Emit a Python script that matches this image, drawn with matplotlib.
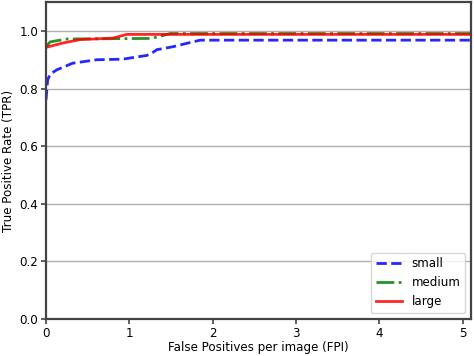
import matplotlib
matplotlib.use('Agg')
import matplotlib.pyplot as plt

# FROC curves
fpi_small = [0.0, 0.02, 0.05, 0.13, 0.32, 0.61, 0.92, 1.21, 1.28, 1.33, 1.52, 1.76, 1.85, 5.1]
tpr_small = [0.76, 0.83, 0.85, 0.865, 0.888, 0.90, 0.902, 0.915, 0.925, 0.935, 0.945, 0.962, 0.968, 0.968]

fpi_medium = [0.0, 0.05, 0.25, 1.25, 1.35, 1.49, 5.1]
tpr_medium = [0.945, 0.962, 0.972, 0.974, 0.98, 0.991, 0.991]

fpi_large = [0.0, 0.2, 0.41, 0.8, 0.97, 5.1]
tpr_large = [0.943, 0.958, 0.97, 0.975, 0.988, 0.988]

fig = plt.figure(figsize=(4.74, 3.56), dpi=100)
ax = fig.add_axes([0.097, 0.104, 0.897, 0.890])

ax.plot(fpi_small, tpr_small, 'b--', lw=2, alpha=0.85, label='small')
ax.plot(fpi_medium, tpr_medium, 'g-.', lw=2, alpha=0.85, label='medium')
ax.plot(fpi_large, tpr_large, 'r-', lw=2, alpha=0.85, label='large')

ax.set_xlim(0, 5.1)
ax.set_ylim(0, 1.1)
ax.set_yticks([0.0, 0.2, 0.4, 0.6, 0.8, 1.0])
ax.set_xticks([0, 1, 2, 3, 4, 5])
ax.yaxis.grid(True, color='#b0b0b0', lw=1)
ax.set_axisbelow(True)
for s in ax.spines.values():
    s.set_linewidth(1.6)
    s.set_color('#444444')
ax.tick_params(labelsize=8.6, width=1.2, length=3.5, pad=2, color='#444444')
ax.set_xlabel('False Positives per image (FPI)', fontsize=8.6, labelpad=1)
ax.set_ylabel('True Positive Rate (TPR)', fontsize=8.6, labelpad=3)
ax.legend(loc='lower right', fontsize=8.6, handlelength=2.2)

plt.savefig('out.png', dpi=100)
plt.close()
